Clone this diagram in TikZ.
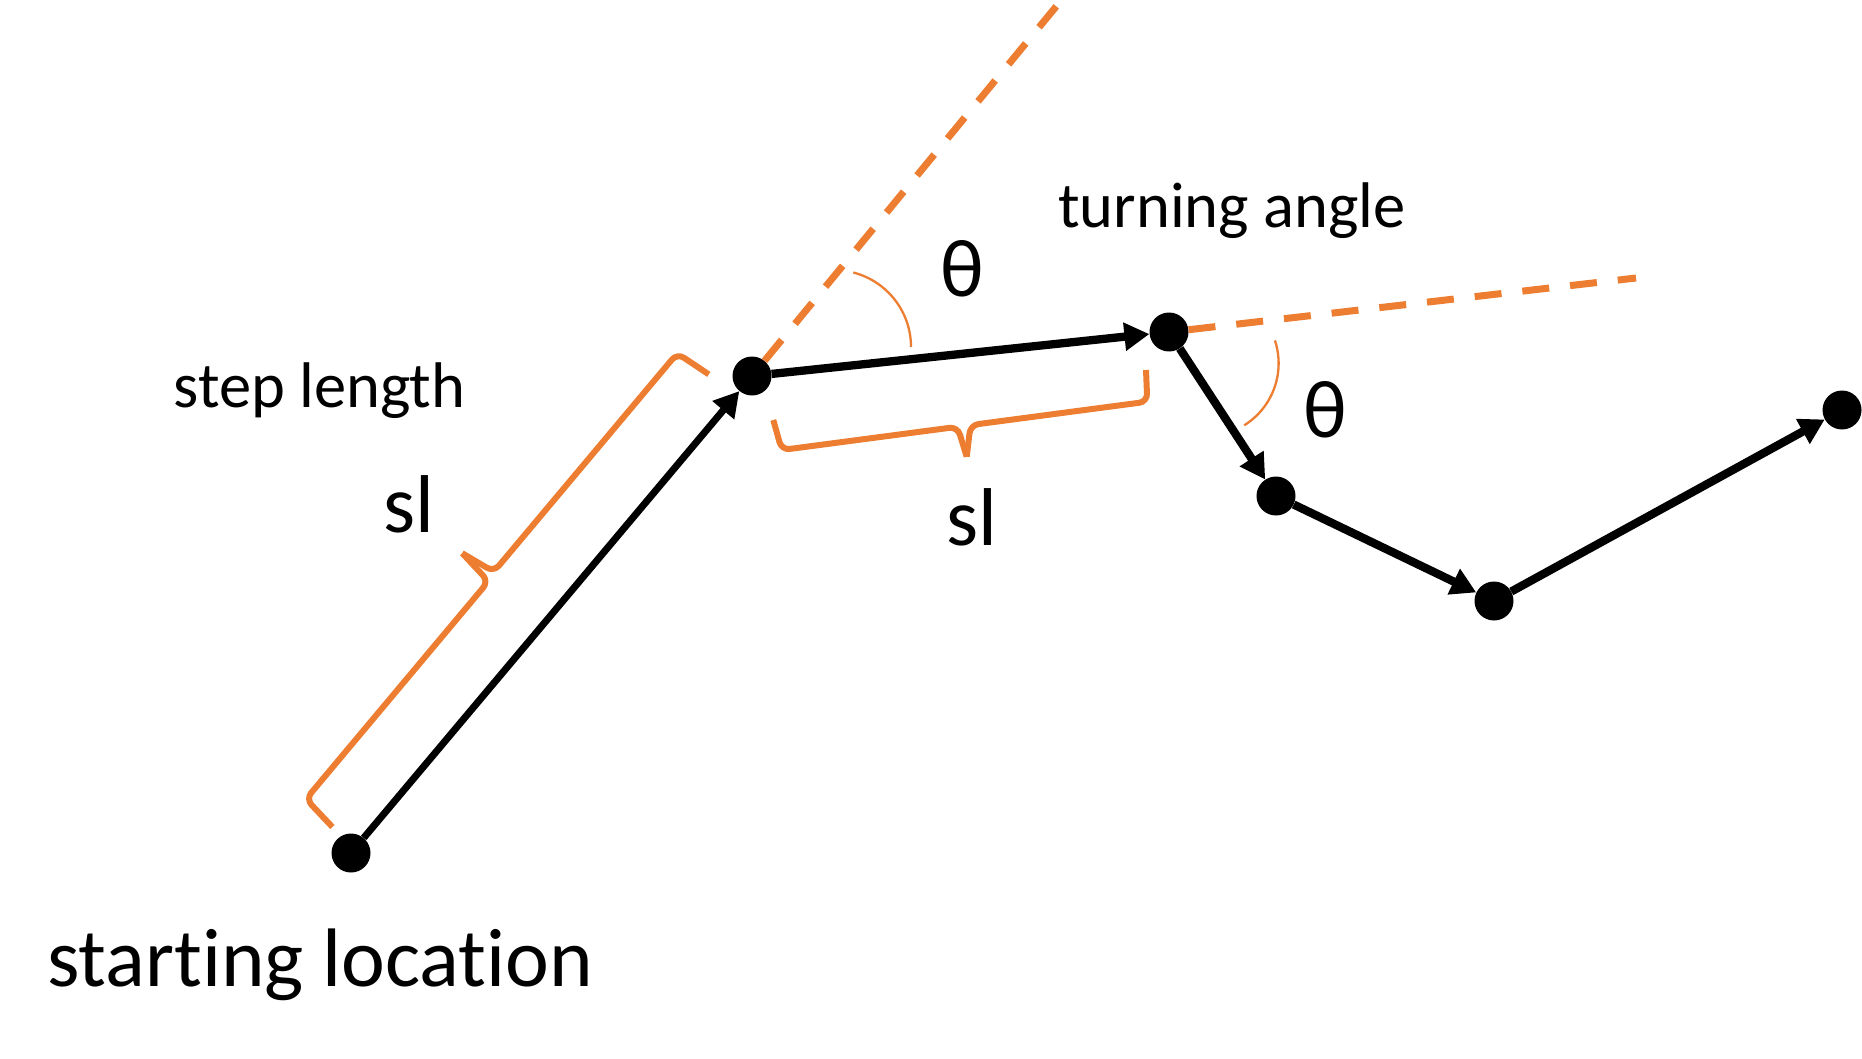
\documentclass[tikz,border=0pt]{standalone}
\usepackage{fontspec}
\setmainfont{Carlito}[Ligatures=NoCommon]
\usetikzlibrary{arrows.meta}
\definecolor{orng}{RGB}{237,125,49}
\tikzset{
  walkdot/.style={circle, fill=black, minimum size=39pt, inner sep=0pt},
  steparrow/.style={line width=8.3pt, -{Triangle[length=25pt,width=27pt]}},
  extline/.style={draw=orng, line width=7pt, dash pattern=on 27pt off 21pt},
  bracepath/.style={draw=orng, line width=6pt, rounded corners=8pt},
  anglearc/.style={draw=orng, line width=2.3pt},
  smalltext/.style={inner sep=0pt, font=\fontsize{64.5}{70}\selectfont},
  bigtext/.style={inner sep=0pt, font=\fontsize{82}{90}\selectfont}
}
\begin{document}
\begin{tikzpicture}[x=1pt,y=-1pt]
\useasboundingbox (0,0) rectangle (1862,1059);
% dots
\node[walkdot] (d1) at (351,853) {};
\node[walkdot] (d2) at (752,376) {};
\node[walkdot] (d3) at (1169,332) {};
\node[walkdot] (d4) at (1276,496) {};
\node[walkdot] (d5) at (1494,601) {};
\node[walkdot] (d6) at (1842,410) {};
\coordinate (e1) at (1059,3);
\coordinate (e2) at (1636,278);
% dashed extensions
\draw[extline] (d2) -- (e1);
\draw[extline] (d3) -- (e2);
% steps
\draw[steparrow, line width=7pt] (d1) -- (d2);
\draw[steparrow] (d2) -- (d3);
\draw[steparrow] (d3) -- (d4);
\draw[steparrow] (d4) -- (d5);
\draw[steparrow] (d5) -- (d6);
% braces
\draw[bracepath] (332.4,827) -- (306,799) -- (488.5,581.3) -- (462.2,553.2);
\draw[bracepath] (708.8,374.4) -- (677.2,353.3) -- (493.8,571.8) -- (462.2,553.2);
\draw[bracepath] (773.3,420) -- (781.7,450) -- (957.5,426.8) -- (966.7,456.7);
\draw[bracepath] (1146,370) -- (1147.3,401.7) -- (970.5,425.1) -- (966.7,456.7);
% angle arcs
\draw[anglearc] (853.3,272.5) .. controls (887.3,281.3) and (911,311.9) .. (911,347);
\draw[anglearc] (1274.9,340.4) .. controls (1285.5,372.4) and (1272.8,407.5) .. (1244.2,425.3);
% labels
\node[smalltext, anchor=base west] (lstep) at (173.5,407) {step length};
\node[smalltext, anchor=base west] (lturn) at (1058,228) {turning angle};
\node[bigtext, anchor=base west, font=\fontsize{83}{90}\selectfont] (lstart) at (47,986) {starting location};
\node[bigtext, anchor=base west] (lsl1) at (383,532) {sl};
\node[bigtext, anchor=base west] (lsl2) at (946,545) {sl};
\node[bigtext, anchor=base] (lth1) at (962,296) {θ};
\node[bigtext, anchor=base] (lth2) at (1325,437.5) {θ};
\end{tikzpicture}
\end{document}
